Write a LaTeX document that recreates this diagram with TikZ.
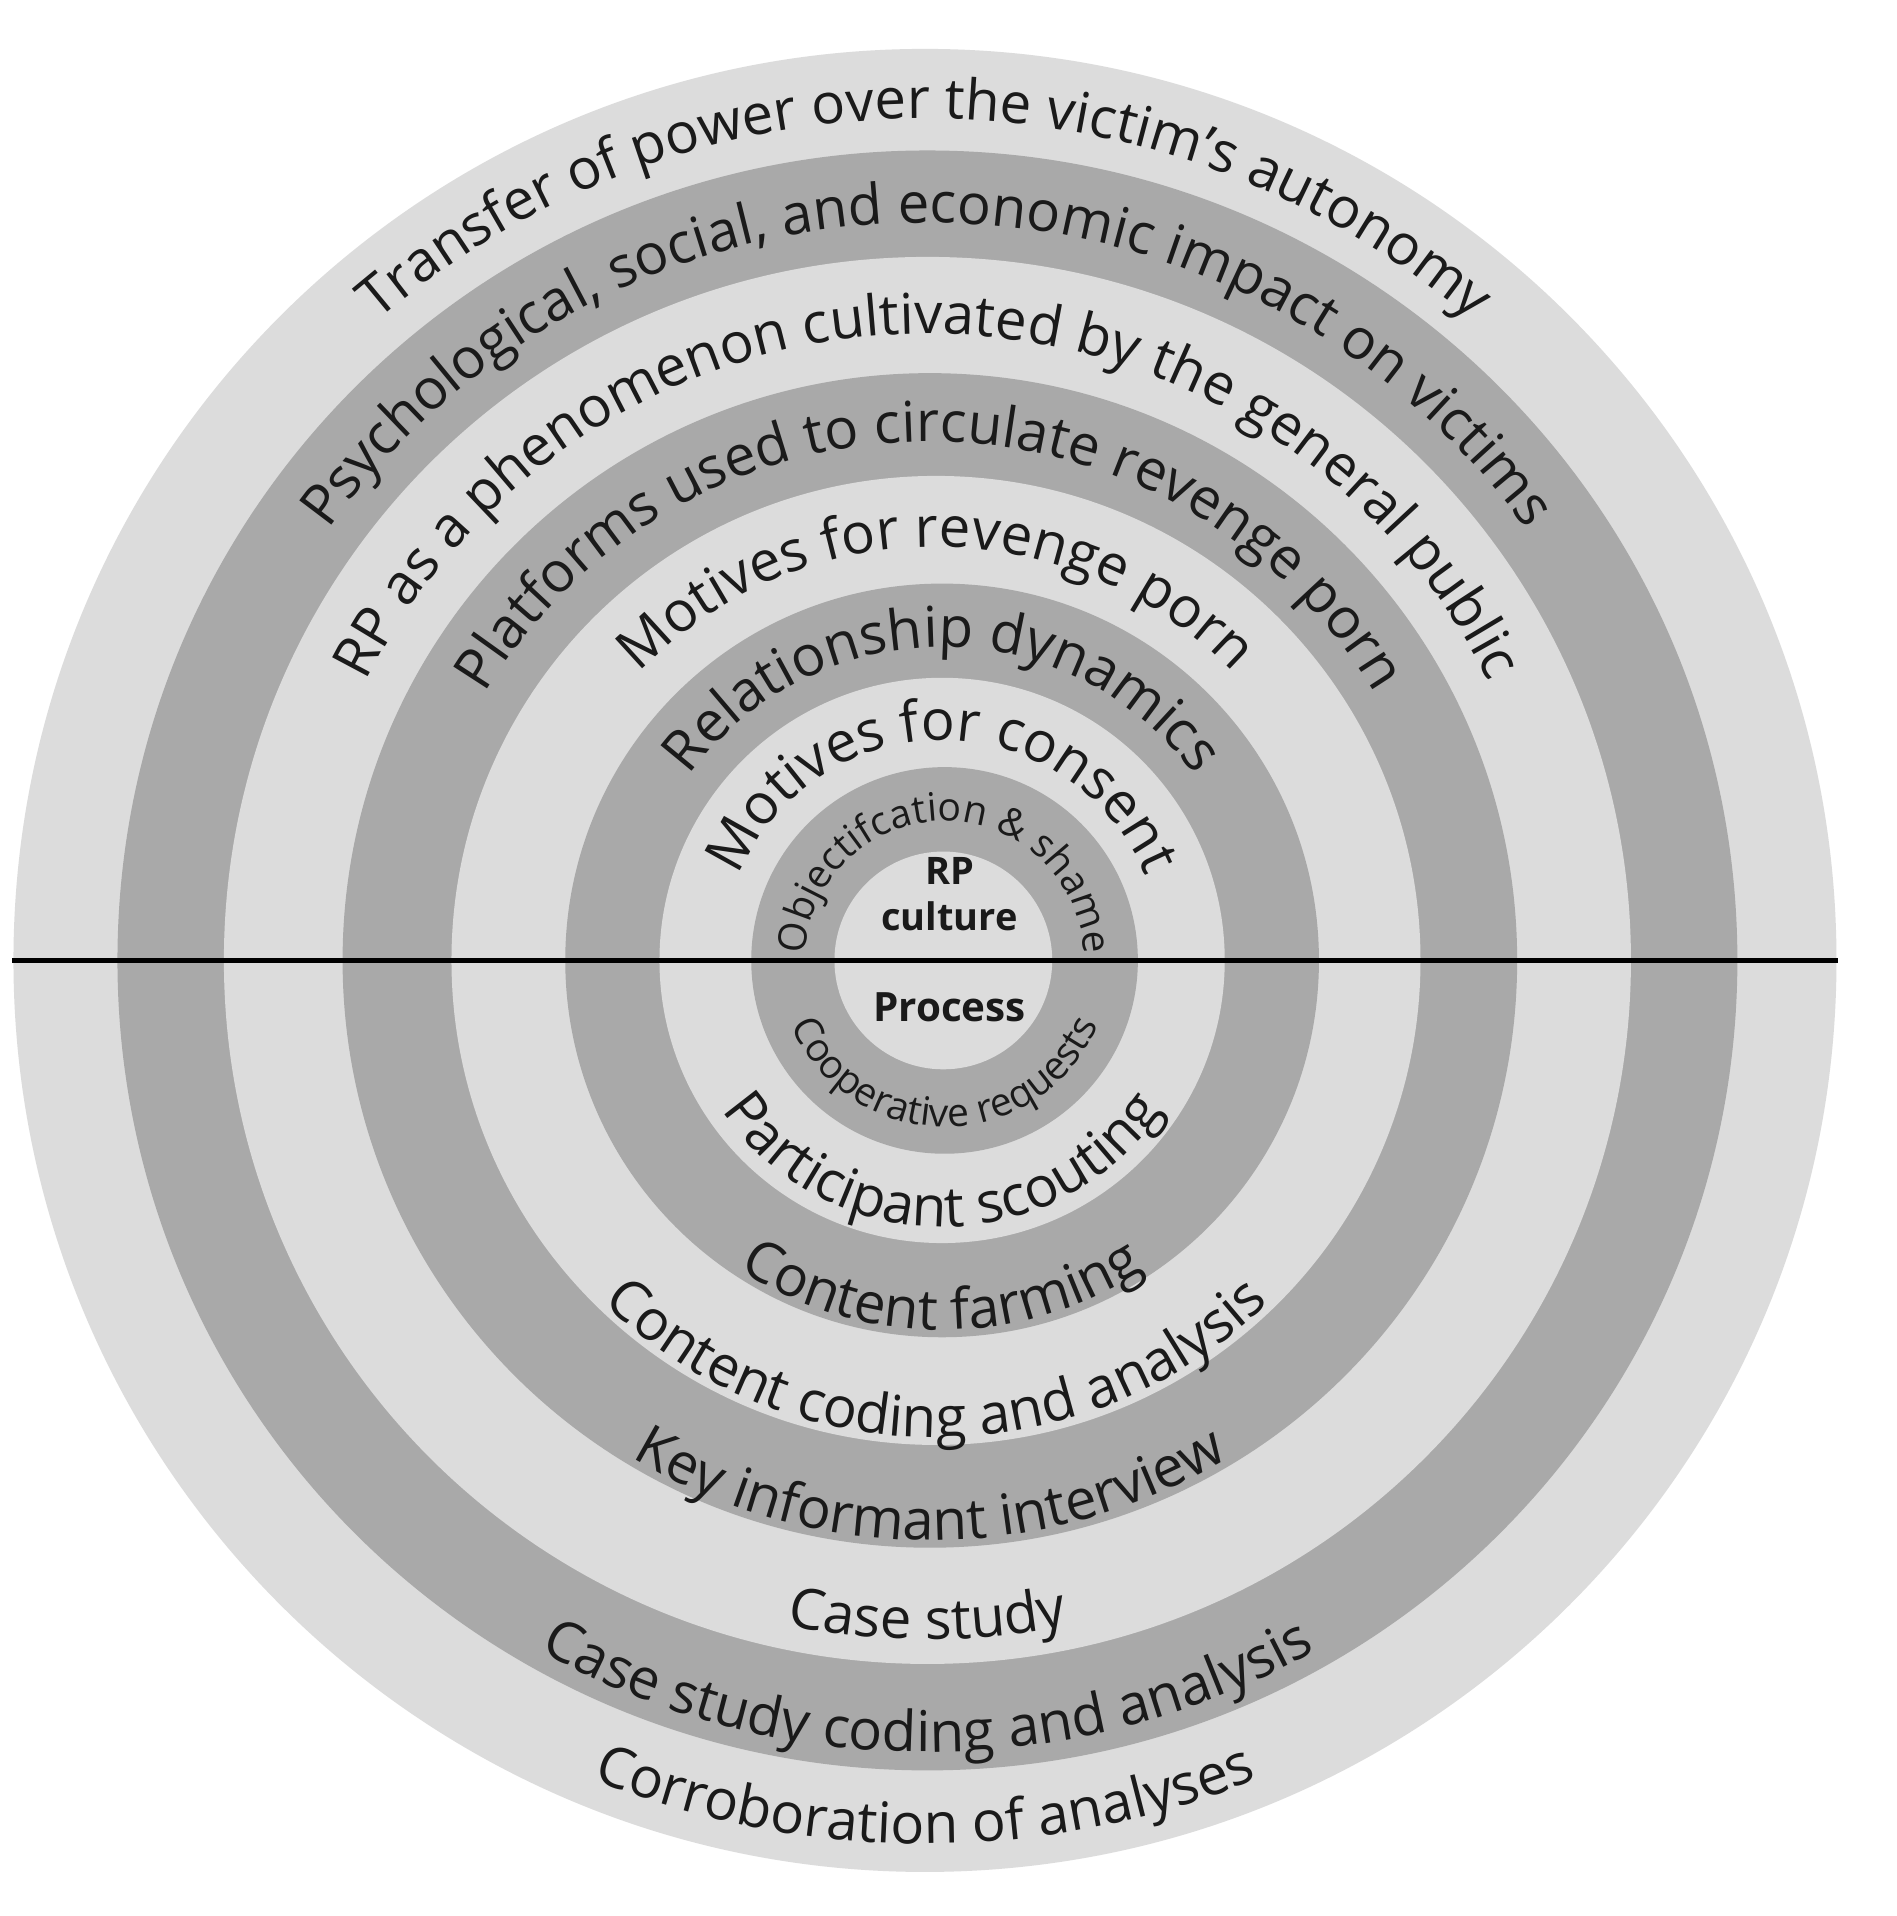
\documentclass[tikz,border=0pt]{standalone}
\usepackage{fontspec}
\setmainfont{Open Sans}
\usetikzlibrary{decorations.text}
\definecolor{lt}{HTML}{DCDCDC}
\definecolor{dk}{HTML}{A9A9A9}
\definecolor{ink}{HTML}{1A1A1A}
\tikzset{
 arclab/.style n args={2}{decorate,decoration={text along path,text align=center,text color=ink,
   text={|\fontsize{#2}{#2}\selectfont|#1}}},
}
\newcommand\toptext[4]{% cx, r, size, text
 \path[arclab={#4}{#3}] (#1,781)++(179.5:#2) arc[start angle=179.5,end angle=0.5,radius=#2];}
\newcommand\bottext[4]{%
 \path[arclab={#4}{#3}] (#1,781)++(180.5:#2) arc[start angle=180.5,end angle=359.5,radius=#2];}
\begin{document}
\begin{tikzpicture}[x=0.5pt,y=0.5pt]
\useasboundingbox[fill=white] (0,0) rectangle (1550,1566);
\fill[lt] (756,781) circle[radius=745];
\fill[dk] (758,781) circle[radius=662];
\fill[lt] (758,781) circle[radius=575];
\fill[dk] (760,781) circle[radius=480];
\fill[lt] (765,781) circle[radius=396];
\fill[dk] (770,781) circle[radius=308];
\fill[lt] (770,781) circle[radius=231];
\fill[dk] (772,781) circle[radius=158];
\fill[lt] (771,781) circle[radius=89];
\draw[line width=2.2pt,black] (10,781) coordinate (L) -- (1502,781) coordinate (R);
% top texts
\toptext{756}{688}{23}{Transfer of power over the victim’s autonomy}
\toptext{758}{603}{23}{Psychological, social, and economic impact on victims}
\toptext{758}{512}{23}{RP as a phenomenon cultivated by the general public}
\toptext{760}{424}{23}{Platforms used to circulate revenge porn}
\toptext{765}{338}{23}{Motives for revenge porn}
\toptext{770}{256}{23}{Relationship dynamics}
\toptext{770}{180}{23}{Motives for consent}
\toptext{772}{114}{16}{Objectifcation {\&} shame}
% bottom texts
\bottext{772}{136}{16}{Cooperative requests}
\bottext{770}{218}{23}{Participant scouting}
\bottext{770}{302}{23}{Content farming}
\bottext{765}{390}{23}{Content coding and analysis}
\bottext{760}{474}{23}{Key informant interview}
\bottext{758}{555}{23}{Case study}
\bottext{758}{647}{23}{Case study coding and analysis}
\bottext{756}{722}{23}{Corroboration of analyses}
\node[font=\fontsize{15.5}{19}\selectfont\bfseries,text=ink,align=center] (rp) at (776,835) {RP\\culture};
\node[font=\fontsize{16.5}{19}\selectfont\bfseries,text=ink] (proc) at (776,743) {Process};
\end{tikzpicture}
\end{document}
